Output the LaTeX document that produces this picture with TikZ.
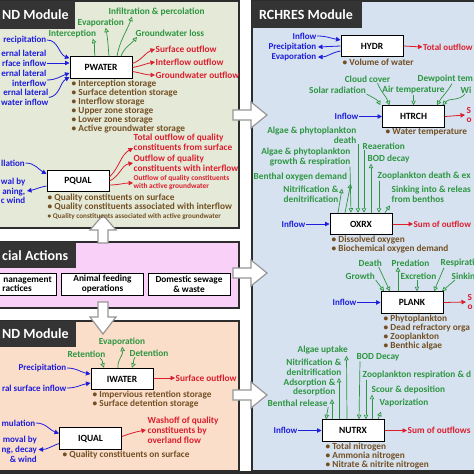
\documentclass[tikz,border=0pt]{standalone}
\usepackage{fontspec}
\setmainfont{Carlito}
\usetikzlibrary{arrows.meta,positioning}

\definecolor{inblue}{RGB}{30,30,220}
\definecolor{outred}{RGB}{220,30,45}
\definecolor{lossgreen}{RGB}{45,150,65}
\definecolor{statebrown}{RGB}{115,80,35}
\definecolor{perlndbg}{RGB}{229,233,216}
\definecolor{rchresbg}{RGB}{214,226,240}
\definecolor{specialbg}{RGB}{248,208,248}
\definecolor{implndbg}{RGB}{250,222,202}
\definecolor{titlegray}{RGB}{52,52,52}
\definecolor{panelline}{RGB}{45,45,45}
\definecolor{arrowgray}{RGB}{150,150,150}

\tikzset{
	panel/.style={draw=panelline, line width=1.6pt},
	titlebox/.style={fill=titlegray},
	titletext/.style={text=white, inner sep=0pt, font=\fontsize{14}{14}\selectfont\bfseries},
	procbox/.style={draw=black, fill=white, line width=1pt, minimum width=62pt, minimum height=21.5pt, inner sep=0pt, font=\fontsize{9.5}{10}\selectfont\bfseries},
	actbox/.style={draw=black, fill=white, line width=0.9pt, minimum width=82pt, minimum height=22pt, inner sep=0pt, align=center, font=\fontsize{9.3}{10}\selectfont\bfseries},
	lbl/.style={inner sep=0.5pt, font=\fontsize{9.3}{9.8}\selectfont\bfseries},
	inlbl/.style={lbl, text=inblue, align=right, font=\fontsize{9}{9.8}\selectfont\bfseries},
	outlbl/.style={lbl, text=outred, align=left},
	edgelbl/.style={font=\fontsize{9}{9.8}\selectfont\bfseries},
	envlbl/.style={lbl, text=lossgreen},
	statelbl/.style={lbl, text=statebrown, align=left, font=\fontsize{9.3}{9}\selectfont\bfseries},
	inflow/.style={inblue, line width=0.8pt, -{Triangle[length=4.5pt,width=4.5pt]}},
	outflow/.style={outred, line width=0.8pt, -{Triangle[length=4.5pt,width=4.5pt]}},
	envflow/.style={lossgreen, line width=0.7pt, -{Triangle[open,length=4.5pt,width=4.5pt]}},
	blockarrow/.style={draw=arrowgray, fill=white, line width=1.2pt, line join=miter}
}

\begin{document}
\begin{tikzpicture}[x=1pt,y=1pt]
	\useasboundingbox (0,0) rectangle (474,-474);
	\clip (0,0) rectangle (474,-474);
	\fill[white] (0,0) rectangle (474,-474);
	%% panels
	\filldraw[panel, fill=perlndbg] (-5,-0.8) rectangle (239,-228);
	\filldraw[panel, fill=specialbg] (-5,-242) rectangle (239,-308);
	\filldraw[panel, fill=implndbg] (-5,-321) rectangle (239,-471);
	\filldraw[panel, fill=rchresbg] (252,-0.8) rectangle (480,-471);
	\fill[panelline] (0,-471) rectangle (474,-474);
	\fill[titlebox] (-5,-0.8) rectangle (75,-29);
	\node[titletext, anchor=west] (perlndt) at (2,-15) {ND Module};
	\fill[titlebox] (-5,-242) rectangle (76,-268);
	\node[titletext, anchor=west] (spect) at (2,-255.5) {cial Actions};
	\fill[titlebox] (-5,-321) rectangle (76,-347);
	\node[titletext, anchor=west] (implndt) at (2,-334) {ND Module};
	\fill[titlebox] (252,-0.8) rectangle (362,-28);
	\node[titletext, anchor=west] (rchrest) at (259,-14.5) {RCHRES Module};

	%% block arrows between modules
	\draw[blockarrow] (233,-110) -- ++(18,0) -- ++(0,8) -- ++(16,-13) -- ++(-16,-13) -- ++(0,8) -- ++(-18,0) -- cycle;
	\draw[blockarrow] (233,-268) -- ++(18,0) -- ++(0,8) -- ++(16,-13) -- ++(-16,-13) -- ++(0,8) -- ++(-18,0) -- cycle;
	\draw[blockarrow] (233,-390) -- ++(18,0) -- ++(0,8) -- ++(16,-13) -- ++(-16,-13) -- ++(0,8) -- ++(-18,0) -- cycle;
	\draw[blockarrow] (98,-243) -- ++(0,13) -- ++(-8,0) -- ++(13,15) -- ++(13,-15) -- ++(-8,0) -- ++(0,-13) -- cycle;
	\draw[blockarrow] (98,-302) -- ++(0,-15) -- ++(-8,0) -- ++(13,-17) -- ++(13,17) -- ++(-8,0) -- ++(0,15) -- cycle;

	%% PWATER
	\node[procbox] (pw) at (101,-67.5) {PWATER};
	\node[envlbl, anchor=west] (pwinter) at (48,-34) {Interception};
	\node[envlbl, anchor=west] (pwevap) at (77,-23) {Evaporation};
	\node[envlbl, anchor=west] (pwinfil) at (108,-12) {Infiltration \& percolation};
	\node[envlbl, anchor=west] (pwgwl) at (135,-33) {Groundwater loss};
	\draw[envflow] ([xshift=-6pt]pw.north) to[out=100,in=-70] ([xshift=-4pt]pwinter.south east);
	\draw[envflow] ([xshift=8pt]pw.north) to[out=95,in=-80] ([xshift=5pt]pwevap.south);
	\draw[envflow] ([xshift=16pt]pw.north) to[out=80,in=-110] ([xshift=24pt]pwinfil.south west);
	\draw[envflow] ([xshift=20pt]pw.north) to[out=70,in=-130] ([xshift=2pt]pwgwl.south west);
	\node[inlbl, anchor=east] (pwprec) at (47,-40) {recipitation};
	\node[inlbl, anchor=east] (pwsurf) at (47,-58) {ernal lateral\\rface inflow};
	\node[inlbl, anchor=east] (pwintf) at (47,-78) {ernal lateral\\interflow};
	\node[inlbl, anchor=east] (pwgw) at (49,-97.5) {ernal lateral\\water inflow};
	\draw[inflow] (pwprec.east) to[out=0,in=160] ([yshift=-2pt]pw.north west);
	\draw[inflow] ([yshift=-5pt]pwsurf.east) -- ([yshift=4.5pt]pw.west);
	\draw[inflow] ([yshift=-2pt]pwintf.east) to[out=0,in=200] ([yshift=-5.5pt]pw.west);
	\draw[inflow] (pwgw.east) to[out=10,in=210] ([yshift=-9.5pt]pw.west);
	\node[outlbl, anchor=west] (pwsro) at (155,-49) {Surface outflow};
	\node[outlbl, anchor=west] (pwifo) at (155,-62) {Interflow outflow};
	\node[outlbl, anchor=west] (pwago) at (155,-75) {Groundwater outflow};
	\draw[outflow] ([yshift=4pt]pw.east) to[out=20,in=200] (pwsro.west);
	\draw[outflow] (pw.east) to[out=10,in=190] (pwifo.west);
	\draw[outflow] ([yshift=-4pt]pw.east) to[out=-10,in=180] (pwago.west);
	\node[statelbl, anchor=north west] (pwstate) at (71,-79) {\textbullet\ Interception storage\\\textbullet\ Surface detention storage\\\textbullet\ Interflow storage\\\textbullet\ Upper zone storage\\\textbullet\ Lower zone storage\\\textbullet\ Active groundwater storage};

	%% PQUAL
	\node[procbox] (pq) at (78,-181) {PQUAL};
	\node[outlbl, anchor=west] (pqsoqo) at (133,-142.5) {Total outflow of quality\\constituents from surface};
	\node[outlbl, anchor=west] (pqioqc) at (133,-163) {Outflow of quality\\constituents with interflow};
	\node[outlbl, anchor=west, font=\fontsize{7.4}{8}\selectfont\bfseries] (pqaoqc) at (133,-183) {Outflow of quality constituents\\with active groundwater};
	\draw[outflow] ([yshift=4pt]pq.east) to[out=45,in=210] ([yshift=-5.5pt]pqsoqo.west);
	\draw[outflow] (pq.east) to[out=25,in=190] (pqioqc.west);
	\draw[outflow] ([yshift=-4pt]pq.east) to[out=0,in=180] (pqaoqc.west);
	\node[inlbl, anchor=east] (pqatm) at (25.5,-163) {llation};
	\node[inlbl, anchor=east] (pqrem) at (26,-191) {wal by\\aning,\\c wind};
	\draw[inflow] (pqatm.east) to[out=0,in=150] ([yshift=7pt]pq.west);
	\draw[inflow] ([yshift=-5pt]pq.west) to[out=190,in=10] ([xshift=1pt]pqrem.east);
	\node[statelbl, anchor=north west] (pqstate) at (47,-193) {\textbullet\ Quality constituents on surface\\\textbullet\ Quality constituents associated with interflow\\{\fontsize{7.2}{9}\selectfont\textbullet\ Quality constituents associated with active groundwater}};

	%% special actions
	\node[actbox, anchor=east] (bmp) at (57,-284) {};
	\node[lbl, align=right, anchor=east] (bmpt) at (52.5,-284) {nanagement\\ractices\hspace*{20pt}};
	\node[actbox] (afo) at (102.5,-284) {Animal feeding\\operations};
	\node[actbox] (dsw) at (189,-284) {Domestic sewage\\\& waste};

	%% IWATER
	\node[procbox] (iw) at (122,-379) {IWATER};
	\node[envlbl] (iwevap) at (122,-342) {Evaporation};
	\node[envlbl] (iwret) at (86.5,-354) {Retention};
	\node[envlbl] (iwdet) at (149,-353) {Detention};
	\draw[envflow] ([xshift=-4pt]iw.north) to[out=95,in=-80] (iwevap.south);
	\draw[envflow] ([xshift=-6pt]iwret.south east) to[out=-40,in=110] ([xshift=-18pt]iw.north);
	\draw[envflow] ([xshift=6pt]iwdet.south west) to[out=-120,in=70] ([xshift=10pt]iw.north);
	\node[inlbl, anchor=east] (iwprec) at (67,-368) {Precipitation};
	\node[inlbl, anchor=east] (iwsurf) at (67,-388) {ral surface inflow};
	\draw[inflow] (iwprec.east) to[out=0,in=170] ([yshift=5pt]iw.west);
	\draw[inflow] (iwsurf.east) to[out=0,in=190] ([yshift=-4pt]iw.west);
	\node[outlbl, anchor=west] (iwsro) at (175,-378) {Surface outflow};
	\draw[outflow] ([yshift=1pt]iw.east) -- (iwsro.west);
	\node[statelbl, anchor=north west] (iwstate) at (92,-390) {\textbullet\ Impervious retention storage\\\textbullet\ Surface detention storage};

	%% IQUAL
	\node[procbox] (iq) at (90.5,-438.5) {IQUAL};
	\node[inlbl, anchor=east] (iqacc) at (36,-423) {mulation};
	\node[inlbl, anchor=east] (iqrem) at (37.5,-449.5) {moval by\\ng, decay\\\& wind};
	\draw[inflow] (iqacc.east) to[out=0,in=160] ([yshift=5pt]iq.west);
	\draw[inflow] ([yshift=-5pt]iq.west) to[out=200,in=0] ([xshift=1pt]iqrem.east);
	\node[outlbl, anchor=west] (iqsoqo) at (147,-430) {Washoff of quality\\constituents by\\overland flow};
	\draw[outflow] ([yshift=2pt]iq.east) to[out=20,in=190] ([xshift=-1pt]iqsoqo.west);
	\node[statelbl, anchor=north west] (iqstate) at (62,-450) {\textbullet\ Quality constituents on surface};

	%% HYDR
	\node[procbox] (hydr) at (372,-46) {HYDR};
	\node[inlbl, anchor=east] (hyin) at (317,-36) {Inflow};
	\node[inlbl, anchor=east] (hyprec) at (317,-47) {Precipitation};
	\node[inlbl, anchor=east] (hyevap) at (317,-57) {Evaporation};
	\draw[inflow] (hyin.east) to[out=0,in=170] ([yshift=6pt]hydr.west);
	\draw[inflow] (hydr.west) -- ([xshift=1pt]hyprec.east);
	\draw[inflow] ([yshift=-5pt]hydr.west) to[out=190,in=0] ([xshift=1pt]hyevap.east);
	\node[outlbl, edgelbl, anchor=west] (hyro) at (422.5,-47) {Total outflow};
	\draw[outflow] (hydr.east) -- (hyro.west);
	\node[statelbl, anchor=west] (hystate) at (342,-62) {\textbullet\ Volume of water};

	%% HTRCH
	\node[procbox] (htrch) at (413.5,-116.5) {HTRCH};
	\node[inlbl, anchor=east] (htin) at (359,-116.5) {Inflow};
	\draw[inflow] (htin.east) -- (htrch.west);
	\node[envlbl] (htcld) at (367.5,-79) {Cloud cover};
	\node[envlbl, anchor=west] (htdew) at (417,-79) {Dewpoint tem};
	\node[envlbl] (htsol) at (337.5,-90) {Solar radiation};
	\node[envlbl] (htair) at (413.5,-90) {Air temperature};
	\node[envlbl, anchor=west] (htwind) at (460,-90) {Wi};
	\draw[envflow] (htsol.south east) to[out=-30,in=120] ([xshift=-33pt]htrch.north);
	\draw[envflow] ([xshift=10pt]htcld.south) to[out=-70,in=110] ([xshift=-24pt]htrch.north);
	\draw[envflow] (htair.south) -- (htrch.north);
	\draw[envflow] ([xshift=35pt]htdew.south west) to[out=-120,in=60] ([xshift=23.5pt]htrch.north);
	\draw[envflow] ([xshift=5pt]htwind.south west) to[out=-130,in=50] ([xshift=29pt]htrch.north);
	\node[outlbl, anchor=west] (htro) at (466,-115) {S\\o};
	\draw[outflow] (htrch.east) -- ([xshift=-1pt]htro.west);
	\node[statelbl, anchor=west] (htstate) at (385,-132) {\textbullet\ Water temperature};

	%% OXRX
	\node[procbox] (oxrx) at (361,-224) {OXRX};
	\node[inlbl, anchor=east] (oxin) at (306,-224) {Inflow};
	\draw[inflow] (oxin.east) -- (oxrx.west);
	\node[outlbl, edgelbl, anchor=west] (oxro) at (413,-224) {Sum of outflow};
	\draw[outflow] (oxrx.east) -- (oxro.west);
	\node[envlbl, align=right, anchor=east] (oxdth) at (357,-135.5) {Algae \& phytoplankton\\death};
	\node[envlbl, anchor=west] (oxrea) at (362,-146) {Reaeration};
	\node[envlbl, align=right, anchor=east] (oxgrw) at (351,-157) {Algae \& phytoplankton\\growth \& respiration};
	\node[envlbl, anchor=west] (oxbod) at (367,-159) {BOD decay};
	\node[envlbl, anchor=west] (oxben) at (253,-177) {Benthal oxygen demand};
	\node[envlbl, anchor=west] (oxzoo) at (377,-176) {Zooplankton death \& ex};
	\node[envlbl, align=right, anchor=east] (oxnit) at (339,-194.5) {Nitrification \&\\denitrification};
	\node[envlbl, align=left, anchor=west] (oxsink) at (391,-194.5) {Sinking into \& releas\\from benthos};
	\draw[envflow] ([xshift=-23pt]oxrx.north) -- ([xshift=3pt,yshift=-3pt]oxnit.north east);
	\draw[envflow] ([xshift=-16pt]oxrx.north) -- ([xshift=3pt,yshift=-2pt]oxben.south east);
	\draw[envflow] ([xshift=-1pt]oxgrw.south east) -- ([xshift=-10pt]oxrx.north);
	\draw[envflow] ([xshift=1pt]oxdth.south east) -- ([xshift=-3pt]oxrx.north);
	\draw[envflow] ([xshift=2pt]oxrea.south west) -- ([xshift=3pt]oxrx.north);
	\draw[envflow] ([xshift=10pt]oxrx.north) -- ([xshift=4pt]oxbod.south west);
	\draw[envflow] ([xshift=2pt]oxzoo.south west) -- ([xshift=18pt]oxrx.north);
	\draw[envflow] ([xshift=24pt]oxrx.north) -- ([xshift=-1pt,yshift=-2pt]oxsink.south west);
	\node[statelbl, anchor=north west] (oxstate) at (331,-235) {\textbullet\ Dissolved oxygen\\\textbullet\ Biochemical oxygen demand};

	%% PLANK
	\node[procbox] (plank) at (412,-302.5) {PLANK};
	\node[inlbl, anchor=east] (plin) at (357,-302.5) {Inflow};
	\draw[inflow] (plin.east) -- (plank.west);
	\node[outlbl, anchor=west] (plro) at (467,-302) {S\\o};
	\draw[outflow] (plank.east) -- ([xshift=-1pt]plro.west);
	\node[envlbl, anchor=west] (pldth) at (358,-263) {Death};
	\node[envlbl, anchor=west] (plpred) at (391,-263) {Predation};
	\node[envlbl, anchor=west] (plresp) at (440,-263) {Respirati};
	\node[envlbl, anchor=west] (plgrw) at (345,-276) {Growth};
	\node[envlbl, anchor=west] (plexc) at (400,-276) {Excretion};
	\node[envlbl, anchor=west] (plsink) at (451,-276) {Sinkin};
	\draw[envflow] (plgrw.south east) -- ([xshift=-28pt]plank.north);
	\draw[envflow] ([xshift=-4pt]pldth.south east) -- ([xshift=-22pt]plank.north);
	\draw[envflow] ([xshift=-14pt]plank.north) -- ([xshift=7pt]plpred.south west);
	\draw[envflow] ([xshift=17pt]plexc.south west) -- ([xshift=5pt]plank.north);
	\draw[envflow] ([xshift=4pt]plresp.south west) -- ([xshift=22pt]plank.north);
	\draw[envflow] ([xshift=4pt]plsink.south west) -- ([xshift=30pt]plank.north);
	\node[statelbl, anchor=north west] (plstate) at (383,-314) {\textbullet\ Phytoplankton\\\textbullet\ Dead refractory orga\\\textbullet\ Zooplankton\\\textbullet\ Benthic algae};

	%% NUTRX
	\node[procbox] (nutrx) at (353,-430.5) {NUTRX};
	\node[inlbl, anchor=east] (nuin) at (298,-430.5) {Inflow};
	\draw[inflow] (nuin.east) -- (nutrx.west);
	\node[outlbl, anchor=west] (nuro) at (407,-430.5) {Sum of outflows};
	\draw[outflow] (nutrx.east) -- (nuro.west);
	\node[envlbl, anchor=west] (nualg) at (297,-350) {Algae uptake};
	\node[envlbl, anchor=west] (nubod) at (356,-357) {BOD Decay};
	\node[envlbl, align=right, anchor=east] (nunit) at (342,-367) {Nitrification \&\\denitrification};
	\node[envlbl, anchor=west] (nuzoo) at (362,-375) {Zooplankton respiration \& d};
	\node[envlbl, align=right, anchor=east] (nuads) at (336,-387.5) {Adsorption \&\\desorption};
	\node[envlbl, anchor=west] (nuscr) at (371,-390) {Scour \& deposition};
	\node[envlbl, anchor=west] (nuben) at (267,-403) {Benthal release};
	\node[envlbl, anchor=west] (nuvap) at (379,-403) {Vaporization};
	\draw[envflow] (nuben.south east) -- ([xshift=-27pt]nutrx.north);
	\draw[envflow] ([xshift=-21pt]nutrx.north) -- ([xshift=-4pt,yshift=-2pt]nuads.south east);
	\draw[envflow] ([xshift=-14pt]nutrx.north) -- ([xshift=-3pt,yshift=-2pt]nunit.south east);
	\draw[envflow] ([xshift=-6pt]nutrx.north) -- ([xshift=-2pt,yshift=-1pt]nualg.south east);
	\draw[envflow] ([xshift=4pt]nubod.south west) -- ([xshift=6pt]nutrx.north);
	\draw[envflow] ([xshift=4pt]nuzoo.south west) -- ([xshift=13pt]nutrx.north);
	\draw[envflow] ([xshift=19pt]nutrx.north) -- ([xshift=1pt]nuscr.south west);
	\draw[envflow] ([xshift=25pt]nutrx.north) -- ([xshift=2pt,yshift=-4pt]nuvap.south west);
	\node[statelbl, anchor=north west] (nustate) at (325,-442) {\textbullet\ Total nitrogen\\\textbullet\ Ammonia nitrogen\\\textbullet\ Nitrate \& nitrite nitrogen};
\end{tikzpicture}
\end{document}
